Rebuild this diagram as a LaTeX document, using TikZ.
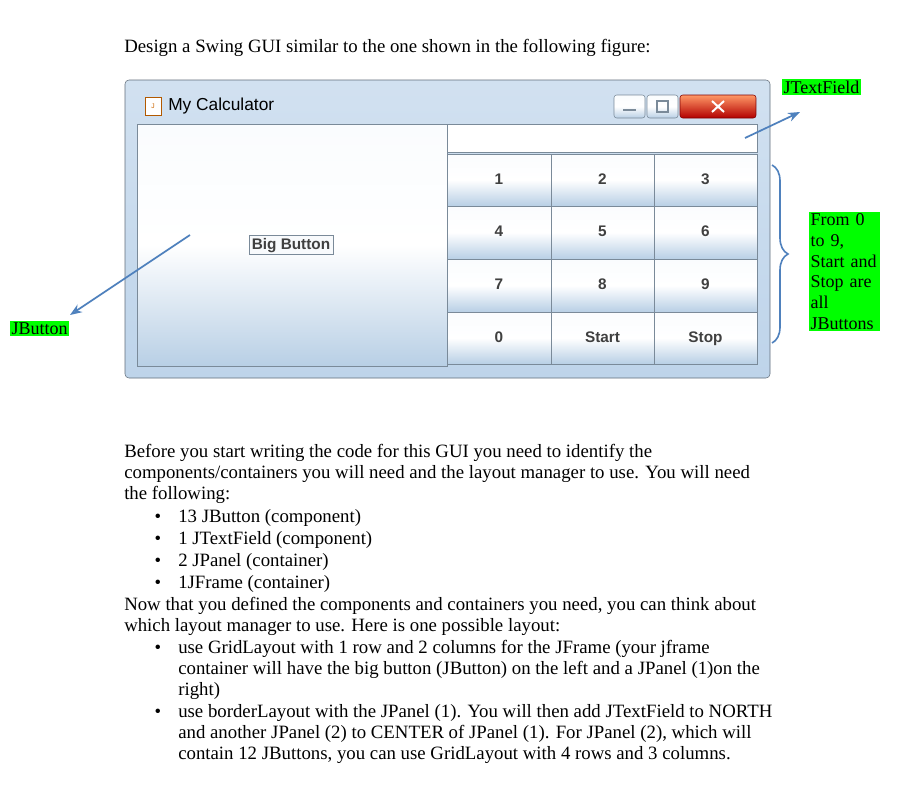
\documentclass[tikz,border=0pt]{standalone}
\usepackage{fontspec}
\setmainfont{Liberation Serif}
\newfontfamily\uisans{Liberation Sans}
\usetikzlibrary{decorations.pathreplacing,arrows.meta}
\definecolor{frameblue}{RGB}{190,212,234}
\definecolor{btnedge}{RGB}{122,138,153}
\definecolor{btntop}{RGB}{250,252,254}
\definecolor{btnbot}{RGB}{184,207,229}
\definecolor{arrowblue}{RGB}{79,129,189}
\definecolor{lime}{RGB}{0,255,0}
\tikzset{
  txt/.style={anchor=west,inner sep=0pt,font=\fontsize{14.1}{15}\selectfont},
  gbtn/.style={draw=btnedge,top color=btntop,bottom color=btnbot,middle color=white,inner sep=0pt},
  glab/.style={fill=lime,inner sep=1pt,anchor=north west,font=\fontsize{13.5}{15.6}\selectfont,align=left},
  bul/.style={anchor=center,inner sep=0pt,font=\fontsize{14}{15}\selectfont},
  bfont/.style={font=\uisans\bfseries\fontsize{11.5}{13}\selectfont,text=black!75,text height=8pt,text depth=2pt}
}
\begin{document}
\begin{tikzpicture}[x=0.75pt,y=-0.75pt]
\useasboundingbox (0,0) rectangle (902,796);
\fill[white] (0,0) rectangle (902,796);
\node[txt] (t0) at (124,48) {Design a Swing GUI similar to the one shown in the following figure:};
% window
\draw[draw=btnedge!80!black,top color=frameblue!70!white,bottom color=frameblue,rounded corners=3pt] (125,80) rectangle (770,378);
\node[anchor=west,inner sep=0pt,font=\uisans\fontsize{13}{15}\selectfont] (title) at (168,106) {My Calculator};
\draw[fill=white,draw=orange!70!black] (145,97) rectangle (161,115);
\node[font=\tiny,text=orange!80!black,inner sep=0pt] (ico) at (153,106) {\uisans J};
\draw[gbtn,rounded corners=2pt] (614,95) rectangle (645,118);
\draw[btnedge,line width=1.5pt] (623,110) -- (636,110);
\draw[gbtn,rounded corners=2pt] (647,95) rectangle (678,118);
\draw[btnedge,line width=1pt] (657,101) rectangle (668,112);
\draw[draw=red!50!black,top color=red!35!orange!60,bottom color=red!70!black,rounded corners=2pt] (680,95) rectangle (756,118);
\draw[white,line width=1.5pt] (712,101) -- (724,112) (724,101) -- (712,112);
% big button area
\draw[gbtn] (137,124) rectangle (447,366);
\node[draw=btnedge,fill=white!90!btnbot,inner sep=2pt,bfont] (big) at (291,245) {Big Button};
% textfield
\draw[draw=btnedge,fill=white] (447,124) rectangle (757,152);
% grid
\foreach \r/\ya/\yb/\la/\lb/\lc in {1/154/206/1/2/3,2/206/259/4/5/6,3/259/312/7/8/9,4/312/364/0/Start/Stop}{
  \draw[gbtn] (447,\ya) rectangle (551,\yb);
  \draw[gbtn] (551,\ya) rectangle (654,\yb);
  \draw[gbtn] (654,\ya) rectangle (757,\yb);
  \node[bfont] (b\r a) at (499,{(\ya+\yb)/2}) {\la};
  \node[bfont] (b\r b) at (602.5,{(\ya+\yb)/2}) {\lb};
  \node[bfont] (b\r c) at (705.5,{(\ya+\yb)/2}) {\lc};
}
% labels
\node[glab] (ltf) at (782,79) {JTextField};
\node[glab,text width=51pt] (lfrom) at (809,212) {From 0\\to 9,\\Start and\\Stop are\\all\\JButtons};
\node[glab] (ljb) at (10,321) {JButton};
\coordinate (a1s) at (190,235); \coordinate (a1e) at (70,315);
\coordinate (a2s) at (745,138); \coordinate (a2e) at (800,112);
\draw[arrowblue,line width=1.3pt,-{Stealth[length=9pt,open]}] (a1s) -- (a1e);
\draw[arrowblue,line width=1.3pt,-{Stealth[length=9pt,open]}] (a2s) -- (a2e);
\draw[arrowblue,line width=1.2pt,decorate,decoration={brace,amplitude=12pt}] (772,165) -- (772,343);
% body text
\node[txt] (p1) at (124,453) {Before you start writing the code for this GUI you need to identify the};
\node[txt] (p2) at (124,474) {components/containers you will need and the layout manager to use. You will need};
\node[txt] (p3) at (124,495) {the following:};
\foreach \y/\t [count=\i] in {518/13 JButton (component),540/1 JTextField (component),562/2 JPanel (container),584/1JFrame (container)}{
  \node[bul] (bu\i) at (158,\y) {•};
  \node[txt] (li\i) at (178,\y) {\t};
}
\node[txt] (p4) at (124,606) {Now that you defined the components and containers you need, you can think about};
\node[txt] (p5) at (124,627) {which layout manager to use. Here is one possible layout:};
\node[bul] (bu5) at (158,649) {•};
\node[txt] (q1) at (178,649) {use GridLayout with 1 row and 2 columns for the JFrame (your jframe};
\node[txt] (q2) at (178,670) {container will have the big button (JButton) on the left and a JPanel (1)on the};
\node[txt] (q3) at (178,691) {right)};
\node[bul] (bu6) at (158,713) {•};
\node[txt] (q4) at (178,713) {use borderLayout with the JPanel (1). You will then add JTextField to NORTH};
\node[txt] (q5) at (178,734) {and another JPanel (2) to CENTER of JPanel (1). For JPanel (2), which will};
\node[txt] (q6) at (178,755) {contain 12 JButtons, you can use GridLayout with 4 rows and 3 columns.};
\end{tikzpicture}
\end{document}
